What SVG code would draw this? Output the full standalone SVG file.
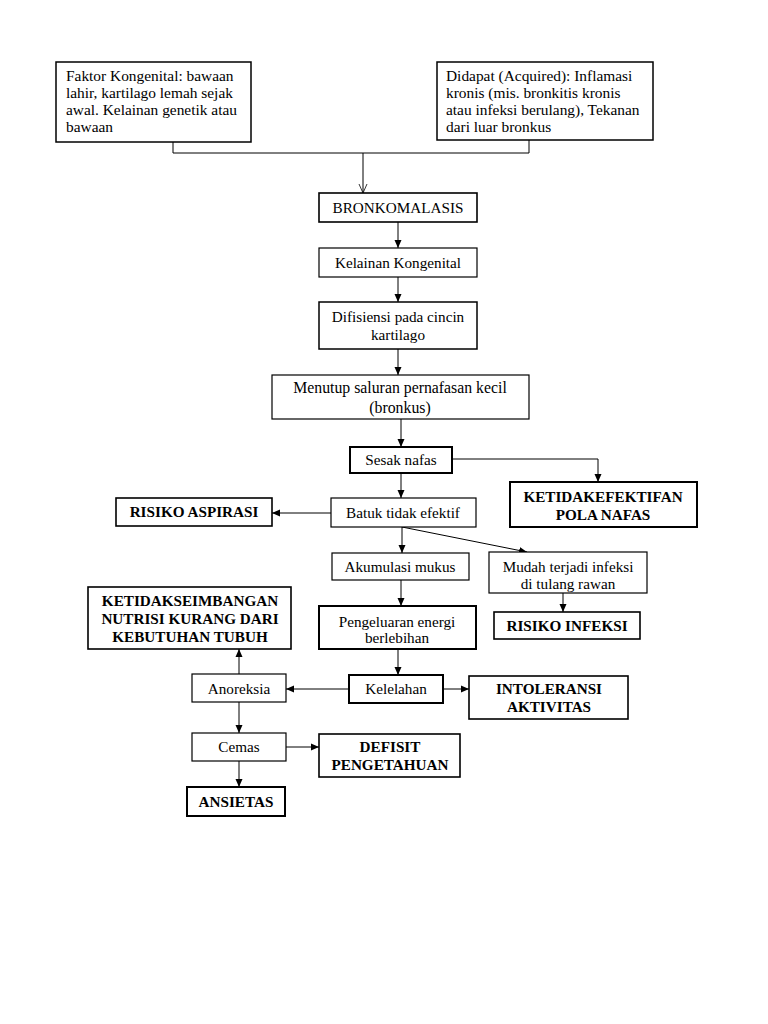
<svg xmlns="http://www.w3.org/2000/svg" width="768" height="1024" viewBox="0 0 768 1024">
<style>
.bg{fill:#fff}
.n{fill:#fff;stroke:#000;stroke-width:1.2}
.b{fill:#fff;stroke:#000;stroke-width:2}
.t{font-family:"Liberation Serif","Times New Roman",serif;font-size:15.2px;fill:#000;text-anchor:middle}
.tl{font-family:"Liberation Serif","Times New Roman",serif;font-size:15.4px;fill:#000}
.tb{font-family:"Liberation Serif","Times New Roman",serif;font-size:15.2px;font-weight:bold;fill:#000;text-anchor:middle}
.c{fill:none;stroke:#000;stroke-width:1}
.a{marker-end:url(#ah)}
</style>
<defs>
<marker id="ah" markerUnits="userSpaceOnUse" markerWidth="10" markerHeight="10" refX="8" refY="4" orient="auto">
<path d="M0,0.5 L8,4 L0,7.5 Z" fill="#000"/>
</marker>
<marker id="oh" markerUnits="userSpaceOnUse" markerWidth="12" markerHeight="12" refX="9" refY="5" orient="auto">
<path d="M0,1 L9,5 L0,9" fill="none" stroke="#000" stroke-width="0.8"/>
</marker>
</defs>
<rect class="bg" x="0" y="0" width="768" height="1024"/>

<g id="connectors">
<polyline class="c" points="173,142 173,153 529,153 529,140"/>
<line class="c" x1="363" y1="153" x2="363" y2="193" marker-end="url(#oh)"/>
<line class="c a" x1="398" y1="222" x2="398" y2="248"/>
<line class="c a" x1="398" y1="277" x2="398" y2="302"/>
<line class="c a" x1="398" y1="349" x2="398" y2="375"/>
<line class="c a" x1="401" y1="419" x2="401" y2="447"/>
<line class="c a" x1="401" y1="473" x2="401" y2="498"/>
<polyline class="c a" points="452,459 598,459 598,482"/>
<line class="c a" x1="331" y1="513" x2="272" y2="513"/>
<line class="c a" x1="402" y1="527" x2="402" y2="553"/>
<line class="c a" x1="402" y1="527" x2="527" y2="552"/>
<line class="c a" x1="401" y1="580" x2="401" y2="606"/>
<line class="c a" x1="563" y1="593" x2="563" y2="612"/>
<line class="c a" x1="398" y1="649" x2="398" y2="675"/>
<line class="c a" x1="349" y1="689" x2="286" y2="689"/>
<line class="c a" x1="443" y1="689" x2="469" y2="689"/>
<line class="c a" x1="239" y1="674" x2="239" y2="649"/>
<line class="c a" x1="239" y1="702" x2="239" y2="733"/>
<line class="c a" x1="286" y1="747" x2="319" y2="747"/>
<line class="c a" x1="239" y1="761" x2="239" y2="787"/>
</g>

<g id="faktor-kongenital">
<rect class="n" x="56" y="62" width="195" height="80" style="stroke-width:1.5"/>
<text class="tl" x="66" y="81">Faktor Kongenital: bawaan</text>
<text class="tl" x="66" y="98">lahir, kartilago lemah sejak</text>
<text class="tl" x="66" y="115">awal. Kelainan genetik atau</text>
<text class="tl" x="66" y="132">bawaan</text>
</g>

<g id="didapat">
<rect class="n" x="437" y="62" width="216" height="78" style="stroke-width:1.5"/>
<text class="tl" x="446" y="81">Didapat (Acquired): Inflamasi</text>
<text class="tl" x="446" y="98">kronis (mis. bronkitis kronis</text>
<text class="tl" x="446" y="115">atau infeksi berulang), Tekanan</text>
<text class="tl" x="446" y="132">dari luar bronkus</text>
</g>

<g id="bronkomalasis">
<rect class="n" x="319" y="193" width="158" height="29" style="stroke-width:1.6"/>
<text class="t" x="398" y="213">BRONKOMALASIS</text>
</g>

<g id="kelainan">
<rect class="n" x="319" y="248" width="158" height="29"/>
<text class="t" x="398" y="268">Kelainan Kongenital</text>
</g>

<g id="difisiensi">
<rect class="n" x="319" y="302" width="158" height="47" style="stroke-width:1.5"/>
<text class="t" x="398" y="322">Difisiensi pada cincin</text>
<text class="t" x="398" y="340">kartilago</text>
</g>

<g id="menutup">
<rect class="n" x="272" y="375" width="257" height="44"/>
<text class="t" x="400" y="393" style="font-size:15.8px">Menutup saluran pernafasan kecil</text>
<text class="t" x="400" y="413" style="font-size:15.8px">(bronkus)</text>
</g>

<g id="sesak">
<rect class="b" x="350" y="447" width="102" height="26"/>
<text class="t" x="401" y="465">Sesak nafas</text>
</g>

<g id="pola-nafas">
<rect class="b" x="510" y="482" width="187" height="45"/>
<text class="tb" x="603" y="502">KETIDAKEFEKTIFAN</text>
<text class="tb" x="603" y="520">POLA NAFAS</text>
</g>

<g id="batuk">
<rect class="n" x="331" y="498" width="145" height="29"/>
<text class="t" x="403" y="518">Batuk tidak efektif</text>
</g>

<g id="risiko-aspirasi">
<rect class="n" x="116" y="498" width="156" height="28" style="stroke-width:1.6"/>
<text class="tb" x="194" y="517">RISIKO ASPIRASI</text>
</g>

<g id="akumulasi">
<rect class="n" x="332" y="553" width="137" height="27"/>
<text class="t" x="400" y="572">Akumulasi mukus</text>
</g>

<g id="mudah">
<rect class="n" x="489" y="552" width="158" height="41"/>
<text class="t" x="568" y="572">Mudah terjadi infeksi</text>
<text class="t" x="568" y="589">di tulang rawan</text>
</g>

<g id="risiko-infeksi">
<rect class="n" x="494" y="612" width="146" height="27" style="stroke-width:1.6"/>
<text class="tb" x="567" y="631">RISIKO INFEKSI</text>
</g>

<g id="pengeluaran">
<rect class="b" x="319" y="606" width="157" height="43"/>
<text class="t" x="397" y="627">Pengeluaran energi</text>
<text class="t" x="397" y="643">berlebihan</text>
</g>

<g id="ketidakseimbangan">
<rect class="n" x="88" y="587" width="203" height="62" style="stroke-width:1.6"/>
<text class="tb" x="190" y="606">KETIDAKSEIMBANGAN</text>
<text class="tb" x="190" y="624">NUTRISI KURANG DARI</text>
<text class="tb" x="190" y="642">KEBUTUHAN TUBUH</text>
</g>

<g id="anoreksia">
<rect class="n" x="192" y="674" width="94" height="28"/>
<text class="t" x="239" y="694">Anoreksia</text>
</g>

<g id="kelelahan">
<rect class="b" x="349" y="675" width="94" height="28"/>
<text class="t" x="396" y="694">Kelelahan</text>
</g>

<g id="intoleransi">
<rect class="n" x="469" y="676" width="159" height="43" style="stroke-width:1.6"/>
<text class="tb" x="549" y="694">INTOLERANSI</text>
<text class="tb" x="549" y="712">AKTIVITAS</text>
</g>

<g id="cemas">
<rect class="n" x="192" y="733" width="94" height="28"/>
<text class="t" x="239" y="752">Cemas</text>
</g>

<g id="defisit">
<rect class="n" x="319" y="734" width="141" height="43" style="stroke-width:1.6"/>
<text class="tb" x="390" y="752">DEFISIT</text>
<text class="tb" x="390" y="770">PENGETAHUAN</text>
</g>

<g id="ansietas">
<rect class="b" x="187" y="787" width="98" height="29"/>
<text class="tb" x="236" y="807">ANSIETAS</text>
</g>
</svg>
